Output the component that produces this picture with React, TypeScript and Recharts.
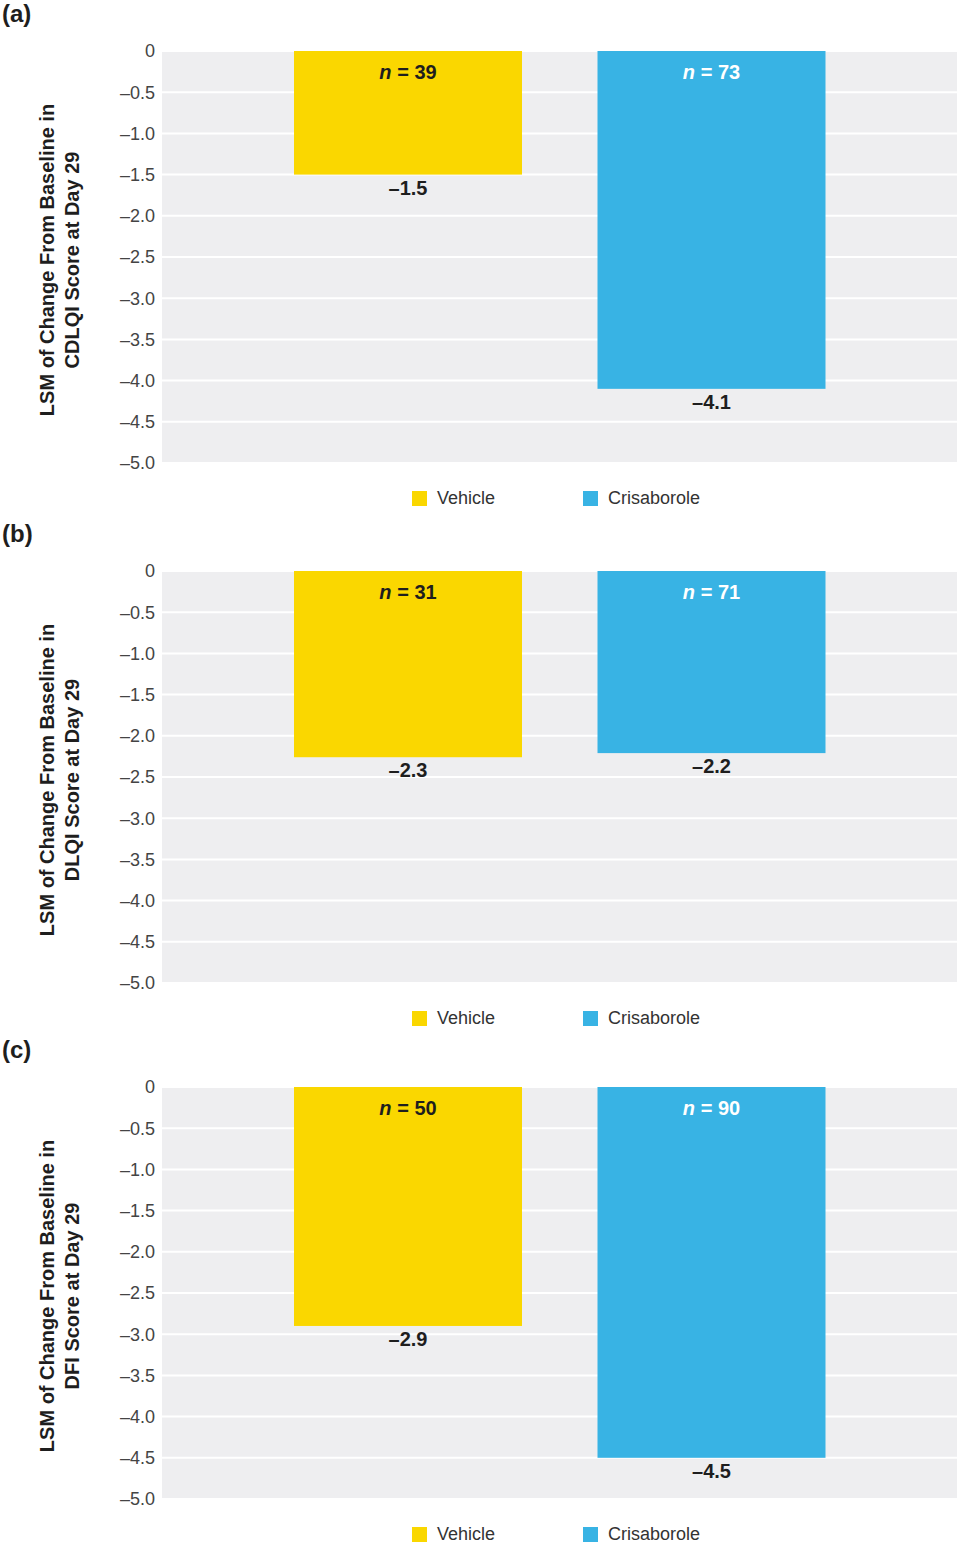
import React from 'react';
import { Bar, BarChart, CartesianGrid, Cell, XAxis, YAxis } from 'recharts';

const FONT = '"Liberation Sans", Arial, Helvetica, sans-serif';

const groups = ['Vehicle', 'Crisaborole'];
const groupColors = ['#FAD700', '#38B3E4'];
const nTextColors = ['#1e1e1e', '#ffffff'];

const cdlqiValues = [-1.5, -4.1];
const cdlqiN = [39, 73];
const dlqiValues = [-2.26, -2.21];
const dlqiN = [31, 71];
const dfiValues = [-2.9, -4.5];
const dfiN = [50, 90];

const yTicks = [0, -0.5, -1, -1.5, -2, -2.5, -3, -3.5, -4, -4.5, -5];

const fmtTick = (v: number) => (v === 0 ? '0' : '\u2013' + Math.abs(v).toFixed(1));
const fmtValue = (v: number) => '\u2013' + Math.abs(v).toFixed(1);

function BarShape(props: any) {
  const { x, y, width, height, fill, payload, index } = props;
  const top = Math.min(y, y + height);
  const bottom = Math.max(y, y + height);
  const cx = x + width / 2;
  return (
    <g>
      <rect x={x} y={top} width={width} height={bottom - top} fill={fill} />
      <text
        x={cx}
        y={top + 28}
        textAnchor="middle"
        fontSize={20}
        fontWeight="bold"
        fontFamily={FONT}
        fill={nTextColors[index]}
      >
        <tspan fontStyle="italic">n</tspan> = {payload.n}
      </text>
      <text
        x={cx}
        y={bottom + 20}
        textAnchor="middle"
        fontSize={20}
        fontWeight="bold"
        fontFamily={FONT}
        fill="#1e1e1e"
      >
        {fmtValue(payload.value)}
      </text>
    </g>
  );
}

function AxisTitle({ viewBox, lines }: any) {
  const cy = viewBox.y + viewBox.height / 2 + 3;
  const xs = [47, 72];
  return (
    <g>
      {lines.map((t: string, i: number) => (
        <text
          key={i}
          x={xs[i]}
          y={cy}
          transform={`rotate(-90 ${xs[i]} ${cy})`}
          textAnchor="middle"
          dominantBaseline="central"
          fontSize={20}
          fontWeight="bold"
          fontFamily={FONT}
          fill="#1e1e1e"
        >
          {t}
        </text>
      ))}
    </g>
  );
}

function Panel({ top, letter, values, ns, scoreLine }: any) {
  const data = groups.map((g, i) => ({ group: g, value: values[i], n: ns[i] }));
  return (
    <div style={{ position: 'absolute', left: 0, top, width: 960, height: 516 }}>
      <div
        style={{
          position: 'absolute',
          left: 2,
          top: 0,
          fontFamily: FONT,
          fontSize: 24,
          fontWeight: 'bold',
          color: '#1e1e1e',
        }}
      >
        {letter}
      </div>
      <BarChart
        width={960}
        height={480}
        data={data}
        margin={{ top: 51, right: 3, bottom: 17, left: 0 }}
      >
        <CartesianGrid vertical={false} fill="#EEEEF0" stroke="#ffffff" strokeWidth={2} />
        <XAxis dataKey="group" hide padding={{ left: 94, right: 94 }} />
        <YAxis
          type="number"
          domain={[-5, 0]}
          ticks={yTicks}
          interval={0}
          tickFormatter={fmtTick}
          tick={{ fontSize: 18, fill: '#444', fontFamily: FONT }}
          axisLine={false}
          tickLine={false}
          tickSize={0}
          tickMargin={7}
          width={162}
          label={<AxisTitle lines={['LSM of Change From Baseline in', scoreLine]} />}
        />
        <Bar dataKey="value" barSize={228} isAnimationActive={false} shape={<BarShape />}>
          {data.map((d, i) => (
            <Cell key={d.group} fill={groupColors[i]} />
          ))}
        </Bar>
      </BarChart>
      {groups.map((g, i) => (
        <div
          key={g}
          style={{
            position: 'absolute',
            left: [412, 583][i],
            top: 488,
            display: 'flex',
            alignItems: 'center',
            fontFamily: FONT,
            fontSize: 18,
            color: '#333',
          }}
        >
          <span
            style={{ display: 'inline-block', width: 15, height: 15, background: groupColors[i], marginRight: 10 }}
          />
          {g}
        </div>
      ))}
    </div>
  );
}

export default function App() {
  return (
    <div style={{ position: 'absolute', left: 0, top: 0, width: 960, height: 1549, background: '#fff' }}>
      <Panel top={0} letter="(a)" values={cdlqiValues} ns={cdlqiN} scoreLine="CDLQI Score at Day 29" />
      <Panel top={520} letter="(b)" values={dlqiValues} ns={dlqiN} scoreLine="DLQI Score at Day 29" />
      <Panel top={1036} letter="(c)" values={dfiValues} ns={dfiN} scoreLine="DFI Score at Day 29" />
    </div>
  );
}
